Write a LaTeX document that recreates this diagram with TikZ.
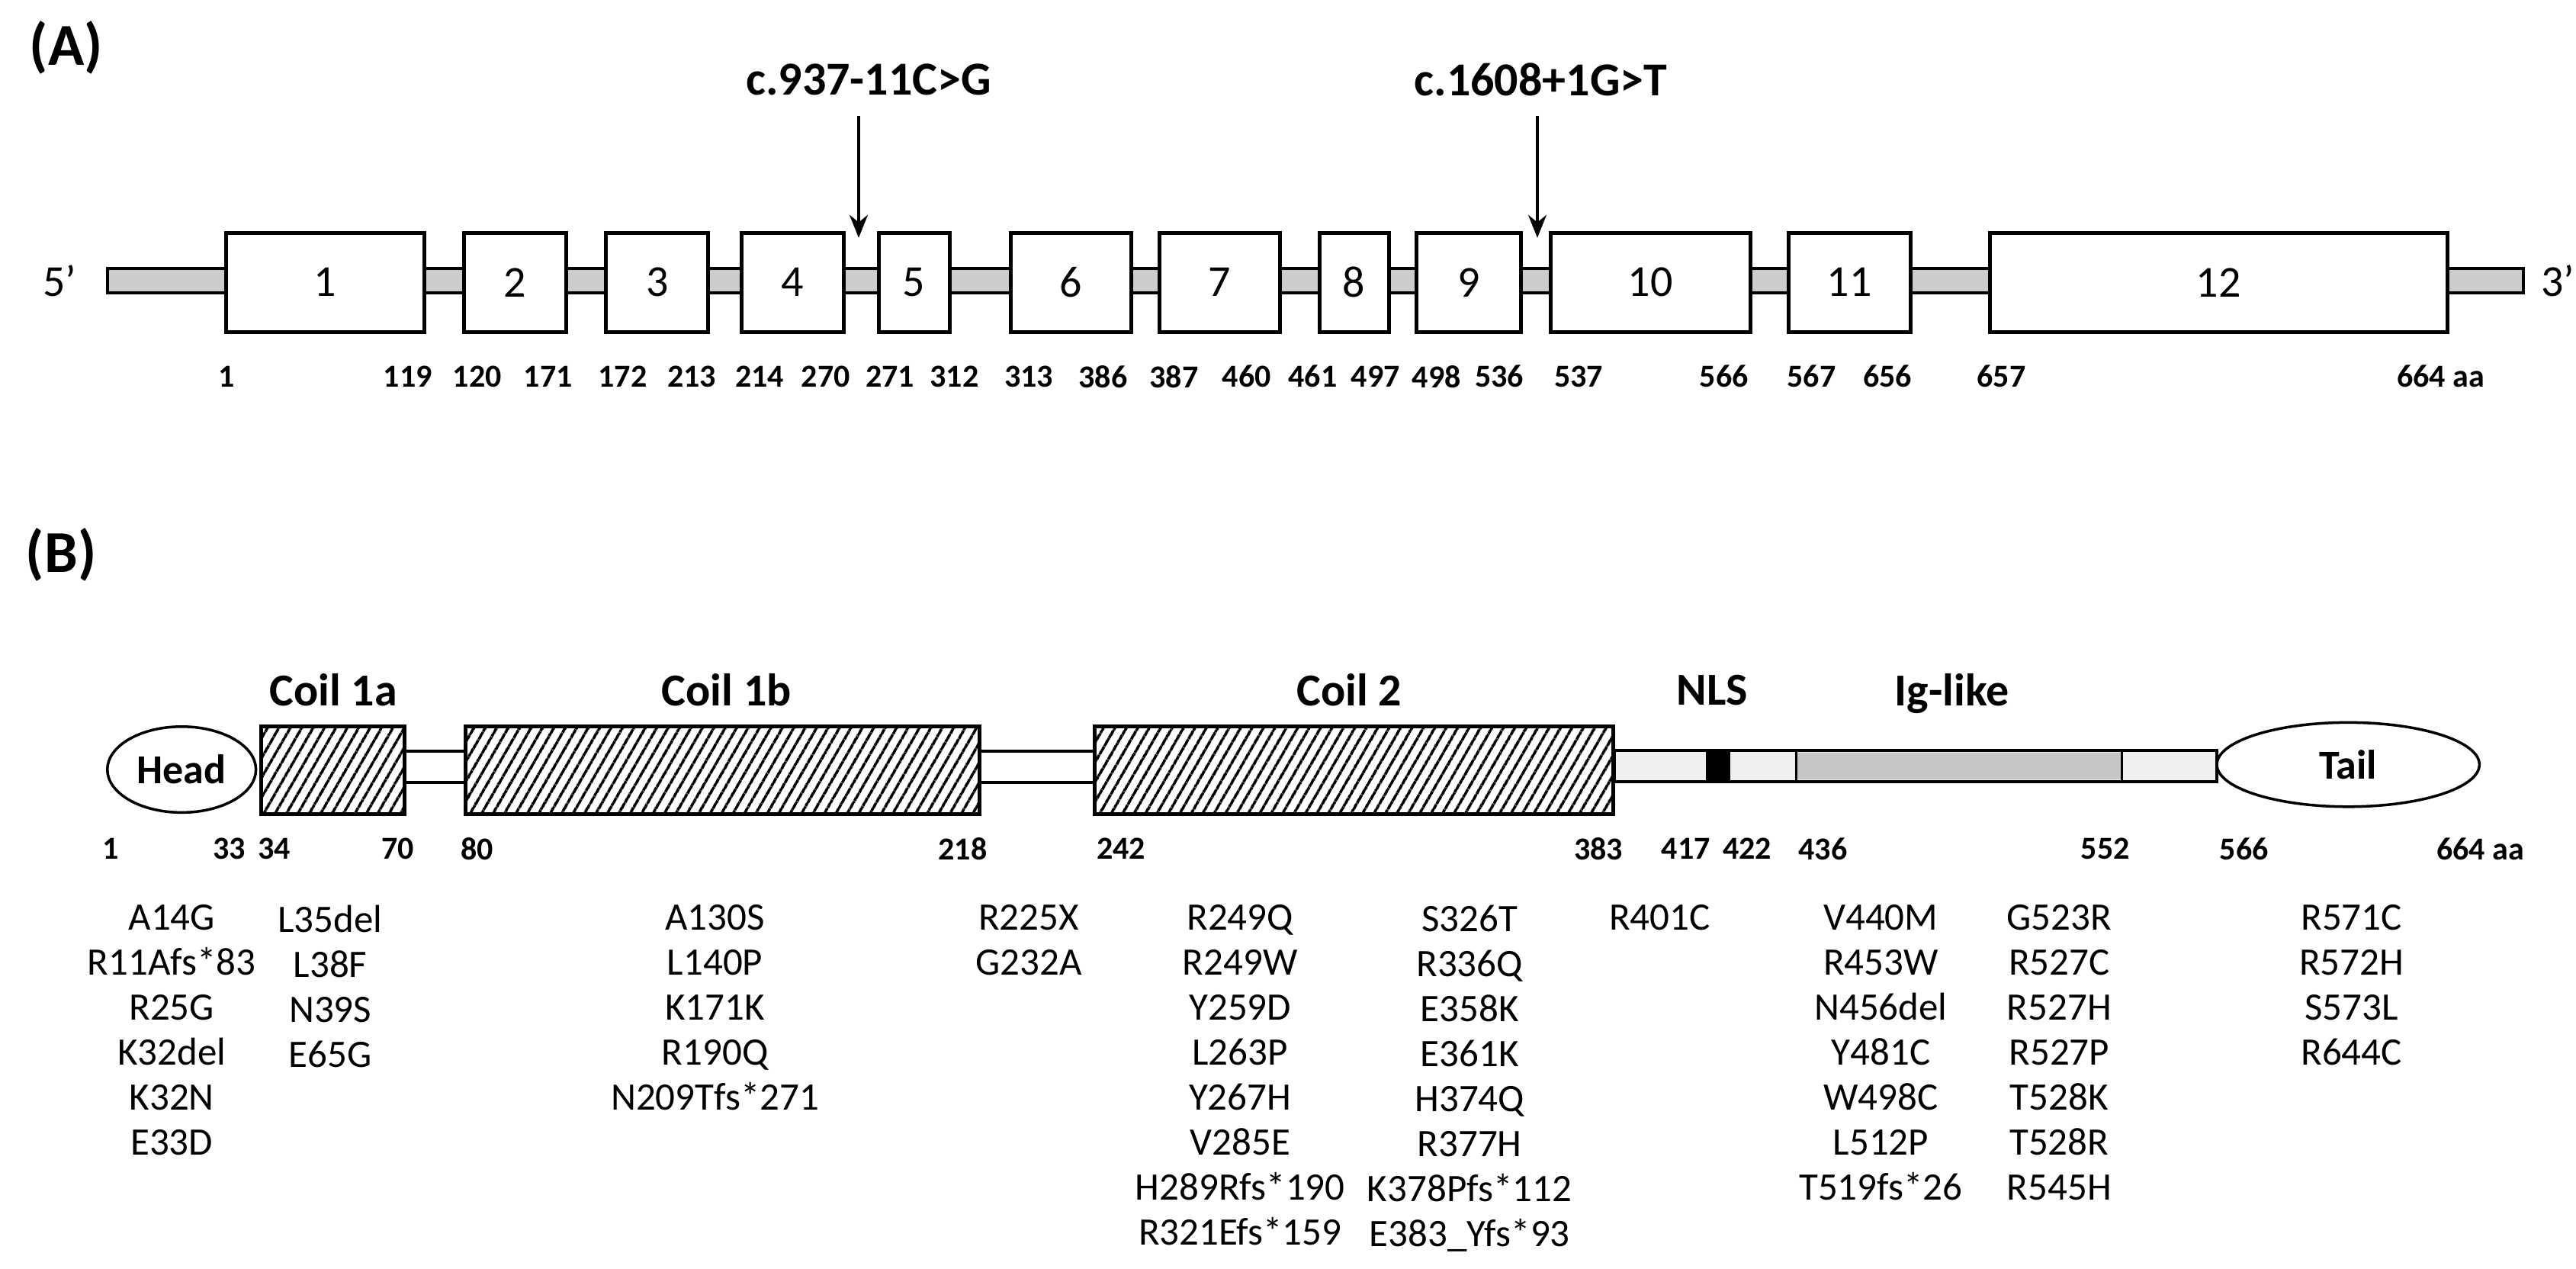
\documentclass[tikz,border=0pt]{standalone}
\usepackage{fontspec}
\setmainfont{Carlito}
\usetikzlibrary{patterns.meta,arrows.meta,shapes.geometric}
\begin{document}
\begin{tikzpicture}[x=2.1654pt,y=-2.1654pt,
  exon/.style={draw,line width=5pt,fill=white,inner sep=0,minimum height={60*2.1654pt},font=\fontsize{58}{60}\selectfont},
  num/.style={font=\bfseries\fontsize{42}{44}\selectfont,inner sep=0},
  ttl/.style={font=\bfseries\fontsize{60}{62}\selectfont,inner sep=0},
  mut/.style={font=\fontsize{51}{59}\selectfont,align=center,anchor=north,inner sep=0},
  coil/.style={draw,line width=5pt,pattern={Lines[angle=60,distance=13pt,line width=4pt]},inner sep=0,minimum height={53*2.1654pt}},
  arr/.style={line width=4pt,-{Stealth[length=30pt,width=24pt]}}]
\useasboundingbox (0,0) rectangle (1560,768);
% ---- Panel A
\node[font=\bfseries\fontsize{78}{80}\selectfont] (A) at (40,29) {(A)};
\node[draw,line width=4pt,fill=gray!40,inner sep=0,minimum width={1463*2.1654pt},minimum height={15*2.1654pt}] (bar) at (796.5,170) {};
\node[font=\fontsize{58}{60}\selectfont] (five) at (36,170) {5’};
\node[font=\fontsize{58}{60}\selectfont] (three) at (1549,170) {3’};
\foreach \n/\l/\r in {1/137/257,2/281/343,3/367/429,4/449/511,5/532/575,6/612/685,7/702/775,8/799/841,9/858/921,10/939/1060,11/1083/1157,12/1205/1482}{
  \node[exon,minimum width={(\r-\l)*2.1654pt}] (e\n) at ({(\l+\r)/2},171) {\n};
}
\foreach \t/\x in {1/137,119/247,120/289,171/332,172/377,213/419,214/460,270/500,271/539,312/578,313/623,386/668,387/711,460/755,461/795,497/833,498/870,536/908,537/956,566/1044,567/1097,656/1143,657/1212,664 aa/1478}{
  \node[num] at (\x,228) {\t};
}
\node[ttl,font=\bfseries\fontsize{62}{64}\selectfont] (m1) at (526,48) {c.937-11C>G};
\node[ttl,font=\bfseries\fontsize{62}{64}\selectfont] (m2) at (933,48) {c.1608+1G>T};
\coordinate (t1) at (520,70);
\coordinate (t2) at (931,70);
\coordinate (p1) at (520,144);
\coordinate (p2) at (931,144);
\draw[arr] (t1) -- (p1);
\draw[arr] (t2) -- (p2);
% ---- Panel B
\node[font=\bfseries\fontsize{78}{80}\selectfont] (B) at (37,336) {(B)};
\node[draw,line width=4pt,fill=gray!12,inner sep=0,minimum width={365*2.1654pt},minimum height={19*2.1654pt}] (cterm) at (1160,464) {};
\node[draw=none,fill=gray!45,inner sep=0,minimum width={197*2.1654pt},minimum height={16*2.1654pt}] (ig) at (1186.5,464) {};
\draw[line width=3pt] (1088,455) -- (1088,473) (1285,455) -- (1285,473);
\node[fill=black,inner sep=0,minimum width={15*2.1654pt},minimum height={18*2.1654pt}] (nls) at (1040.5,464) {};
\draw[line width=4pt,fill=white] (245,455) rectangle (282,474);
\draw[line width=4pt,fill=white] (593,455) rectangle (663,474);
\node[coil,minimum width={87*2.1654pt}] (c1a) at (201.5,466.5) {};
\node[coil,minimum width={311*2.1654pt}] (c1b) at (437.5,466.5) {};
\node[coil,minimum width={314*2.1654pt}] (c2) at (820,466.5) {};
\node[draw,ellipse,line width=3.5pt,fill=white,minimum width={90*2.1654pt},minimum height={52*2.1654pt},inner sep=0,font=\bfseries\fontsize{54}{56}\selectfont] (head) at (110,466) {Head};
\node[draw,ellipse,line width=3.5pt,fill=white,minimum width={159*2.1654pt},minimum height={51*2.1654pt},inner sep=0,font=\bfseries\fontsize{54}{56}\selectfont] (tail) at (1422,463) {Tail};
\node[ttl] at (202,418) {Coil 1a};
\node[ttl] at (440,418) {Coil 1b};
\node[ttl] at (817,418) {Coil 2};
\node[ttl] at (1037,418) {NLS};
\node[ttl] at (1182,420) {Ig-like};
\foreach \t/\x in {1/67,33/139,34/166,70/241,80/289,218/583,242/679,383/968,417/1021,422/1058,436/1104,552/1275,566/1359,664 aa/1502}{
  \node[num] at (\x,514) {\t};
}
\node[mut] at (104,548) {A14G\\R11Afs*83\\R25G\\K32del\\K32N\\E33D};
\node[mut] at (200,548) {L35del\\L38F\\N39S\\E65G};
\node[mut] at (433,548) {A130S\\L140P\\K171K\\R190Q\\N209Tfs*271};
\node[mut] at (623,548) {R225X\\G232A};
\node[mut] at (751,548) {R249Q\\R249W\\Y259D\\L263P\\Y267H\\V285E\\H289Rfs*190\\R321Efs*159};
\node[mut] at (890,548) {S326T\\R336Q\\E358K\\E361K\\H374Q\\R377H\\K378Pfs*112\\E383\_Yfs*93};
\node[mut] at (1005,548) {R401C};
\node[mut] at (1139,548) {V440M\\R453W\\N456del\\Y481C\\W498C\\L512P\\T519fs*26};
\node[mut] at (1247,548) {G523R\\R527C\\R527H\\R527P\\T528K\\T528R\\R545H};
\node[mut] at (1424,548) {R571C\\R572H\\S573L\\R644C};
\end{tikzpicture}
\end{document}
